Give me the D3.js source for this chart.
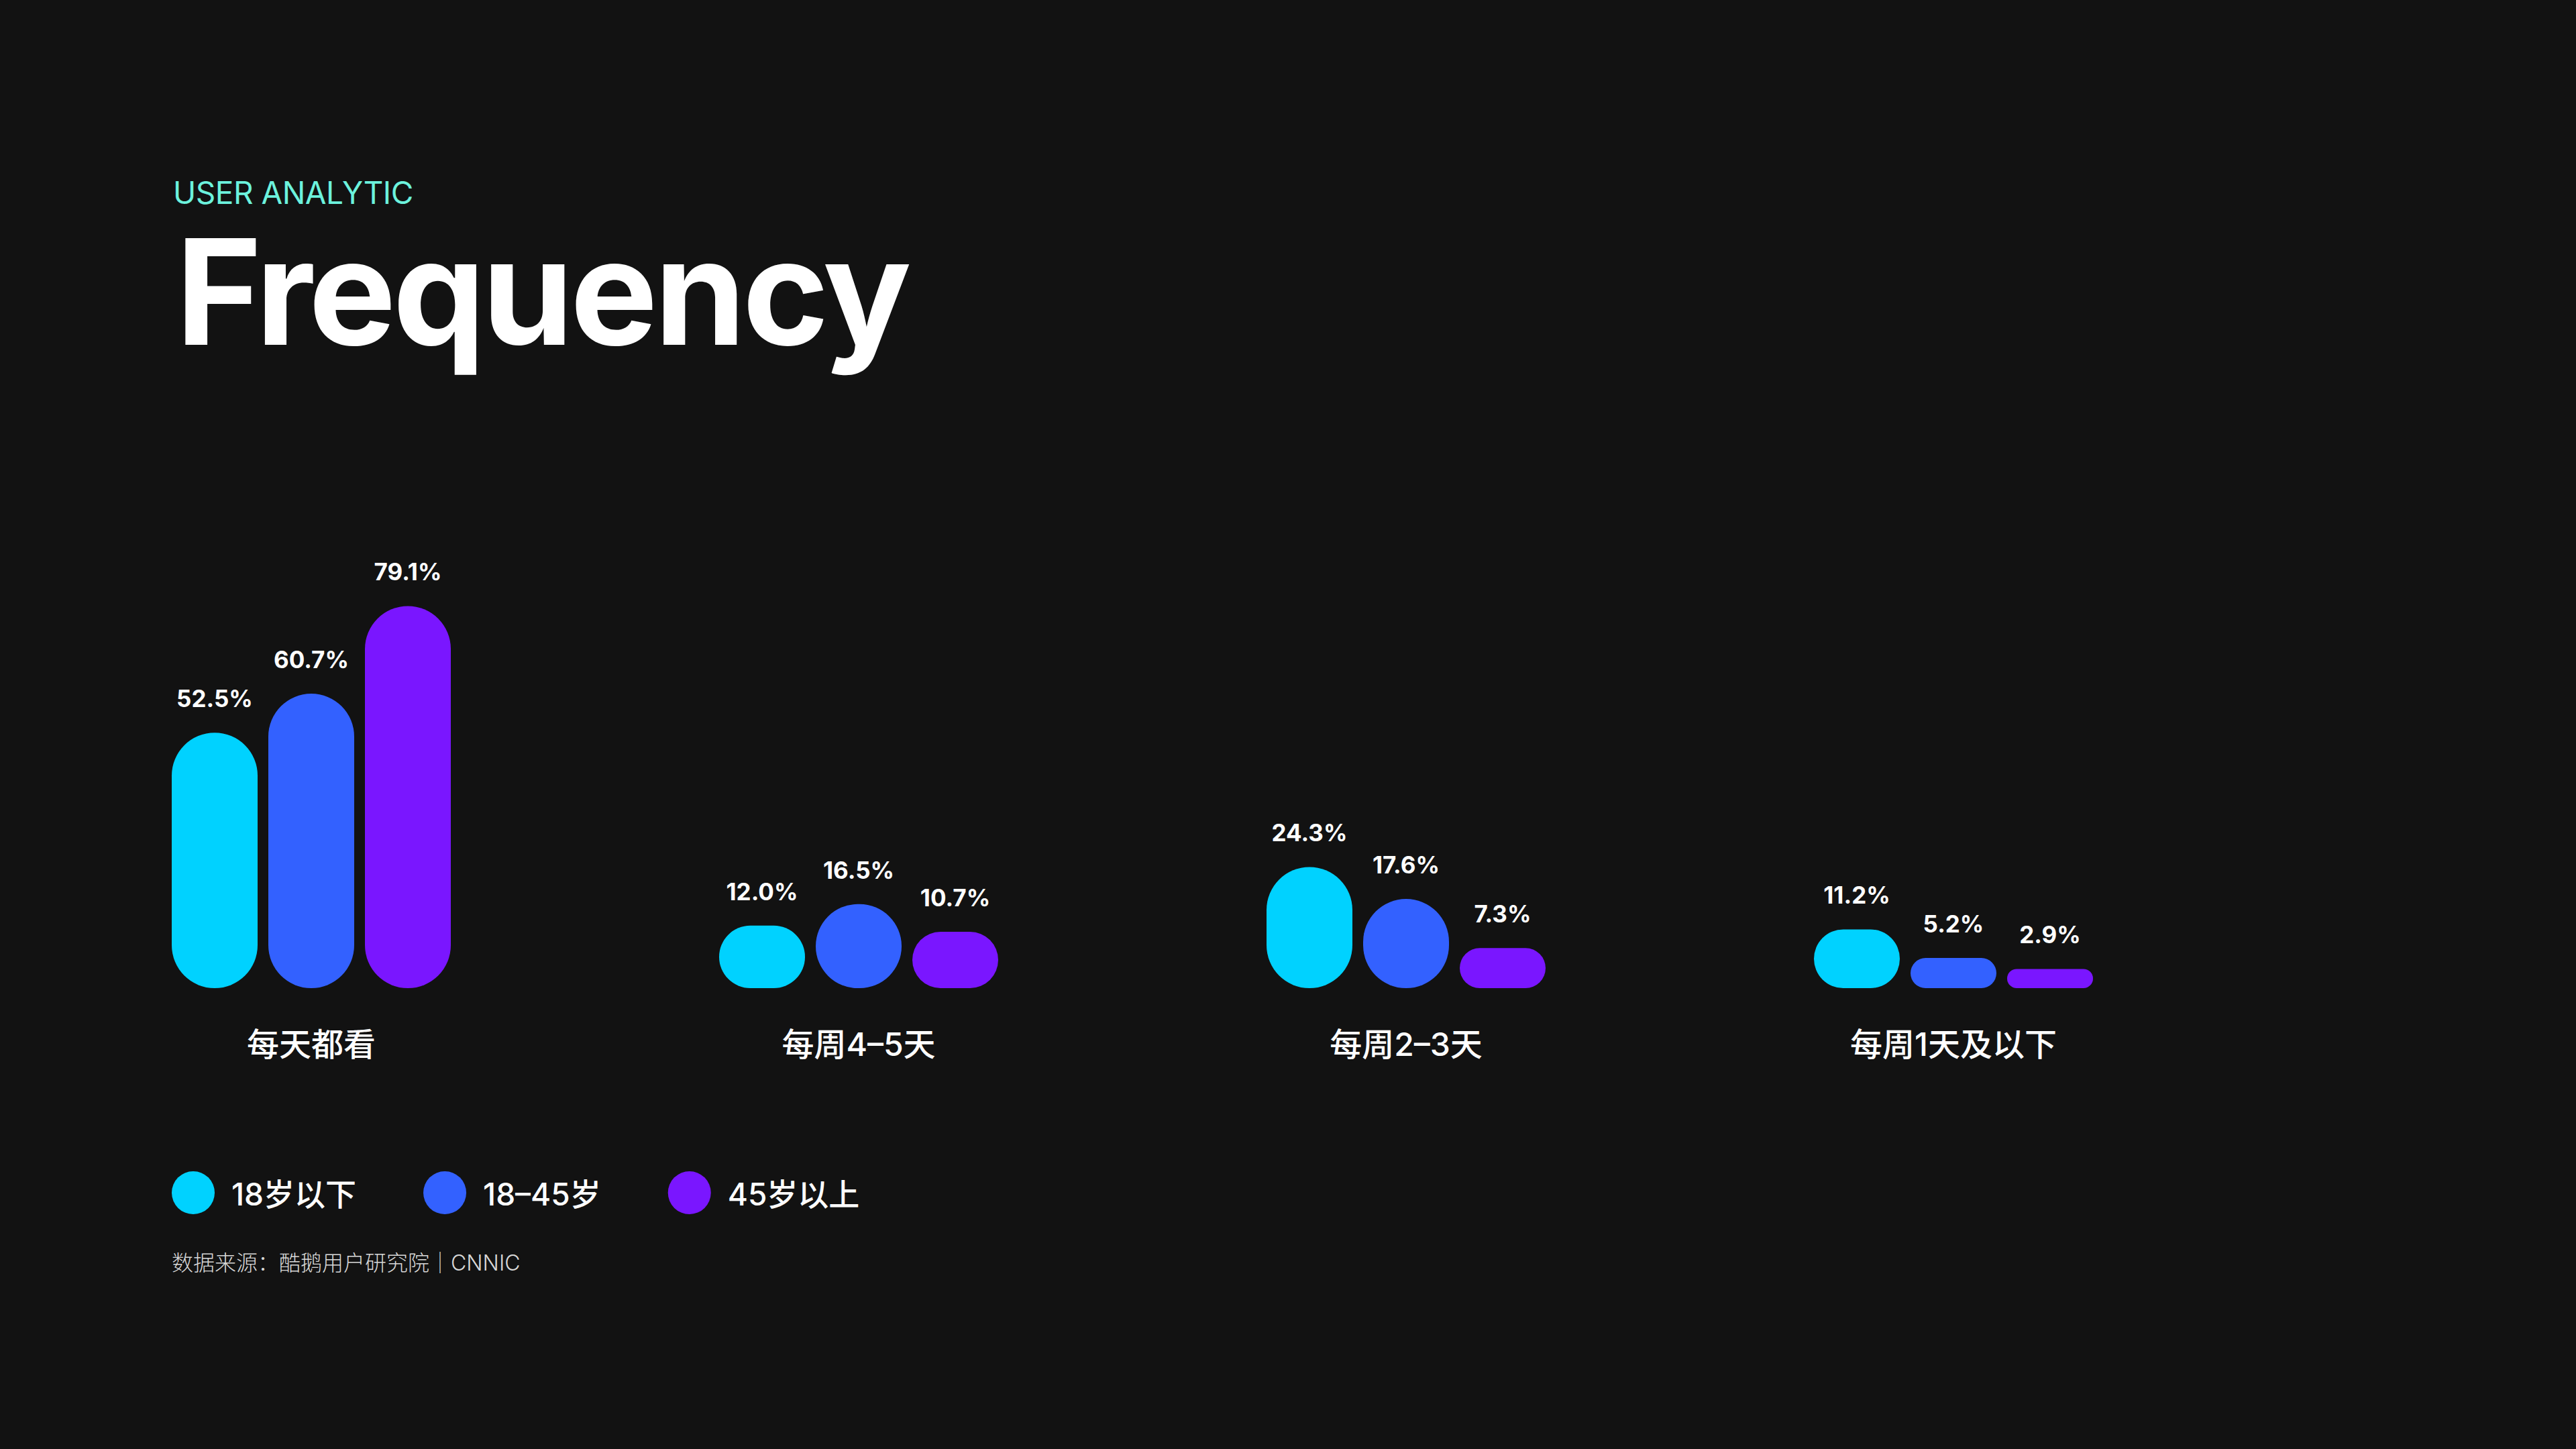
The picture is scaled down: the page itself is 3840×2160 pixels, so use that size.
<!DOCTYPE html>
<html>
<head>
<meta charset="utf-8">
<script src="https://cdn.jsdelivr.net/npm/d3@7/dist/d3.min.js"></script>
<style>
  html, body { margin: 0; padding: 0; background: #121212; }
  svg { display: block; }
</style>
</head>
<body>
<svg id="chart" width="3840" height="2160"></svg>
<script>
// ---- data ----
const categories = ["每天都看", "每周4–5天", "每周2–3天", "每周1天及以下"];
const seriesNames = ["18岁以下", "18–45岁", "45岁以上"];
const under18 = [52.5, 12.0, 24.3, 11.2];
const age18to45 = [60.7, 16.5, 17.6, 5.2];
const over45 = [79.1, 10.7, 7.3, 2.9];
const seriesColors = ["#00D2FF", "#3361FF", "#7A16FF"];
const eyebrow = "USER ANALYTIC";
const title = "Frequency";
const sourceText = "数据来源：酷鹅用户研究院｜CNNIC";

const seriesValues = [under18, age18to45, over45];
const rows = categories.map((c, i) => ({
  category: c,
  values: seriesNames.map((s, j) => ({ series: s, value: seriesValues[j][i], color: seriesColors[j] }))
}));

const svg = d3.select("#chart");
svg.append("rect").attr("width", 3840).attr("height", 2160).attr("fill", "#121212");

const latin = "Inter, 'Noto Sans CJK SC', sans-serif";
const cjk = "Inter, 'Noto Sans CJK SC', sans-serif";

// titles
svg.append("text").attr("x", 258).attr("y", 304)
  .attr("fill", "#6CF2DD").attr("font-family", latin).attr("font-size", 46).attr("font-weight", 400)
  .attr("letter-spacing", -0.5)
  .text(eyebrow);
svg.append("text").attr("x", 262).attr("y", 514)
  .attr("fill", "#ffffff").attr("font-family", latin).attr("font-size", 219).attr("font-weight", 700)
  .attr("letter-spacing", -5)
  .text(title);

// scales
const baseY = 1473;
const x0 = d3.scaleBand().domain(categories).range([256, 3120]).paddingInner(400 / 816).paddingOuter(0);
const x1 = d3.scaleBand().domain(seriesNames).range([0, x0.bandwidth()]).paddingInner(16 / 144).paddingOuter(0);
const y = d3.scaleLinear().domain([0, 80]).range([1465, 897]);
const barH = v => baseY - y(v);

const groups = svg.append("g").selectAll("g").data(rows).join("g")
  .attr("transform", d => `translate(${x0(d.category)},0)`);

groups.selectAll("rect").data(d => d.values).join("rect")
  .attr("x", d => x1(d.series))
  .attr("y", d => y(d.value))
  .attr("width", x1.bandwidth())
  .attr("height", d => barH(d.value))
  .attr("rx", d => Math.min(x1.bandwidth() / 2, barH(d.value) / 2))
  .attr("fill", d => d.color);

groups.selectAll("text.val").data(d => d.values).join("text")
  .attr("class", "val")
  .attr("x", d => x1(d.series) + x1.bandwidth() / 2)
  .attr("y", d => y(d.value) - 38)
  .attr("text-anchor", "middle")
  .attr("fill", "#ffffff").attr("font-family", latin).attr("font-size", 35).attr("font-weight", 700)
  .text(d => d.value.toFixed(1) + "%");

groups.append("text")
  .attr("x", x0.bandwidth() / 2)
  .attr("y", 1574)
  .attr("text-anchor", "middle")
  .attr("fill", "#ffffff").attr("font-family", cjk).attr("font-size", 48).attr("font-weight", 500)
  .text(d => d.category);

// legend (flow layout)
const legend = svg.append("g");
let lx = 256;
const r = 32;
seriesNames.forEach((s, i) => {
  legend.append("circle").attr("cx", lx + r).attr("cy", 1778).attr("r", r).attr("fill", seriesColors[i]);
  const t = legend.append("text").attr("x", lx + 2 * r + 25).attr("y", 1797)
    .attr("fill", "#ffffff").attr("font-family", cjk).attr("font-size", 46).attr("font-weight", 500)
    .text(s);
  lx = lx + 2 * r + 25 + t.node().getComputedTextLength() + 100;
});

svg.append("text").attr("x", 256).attr("y", 1894)
  .attr("fill", "#d8d8d8").attr("font-family", cjk).attr("font-size", 32).attr("font-weight", 300)
  .text(sourceText);
</script>
</body>
</html>
